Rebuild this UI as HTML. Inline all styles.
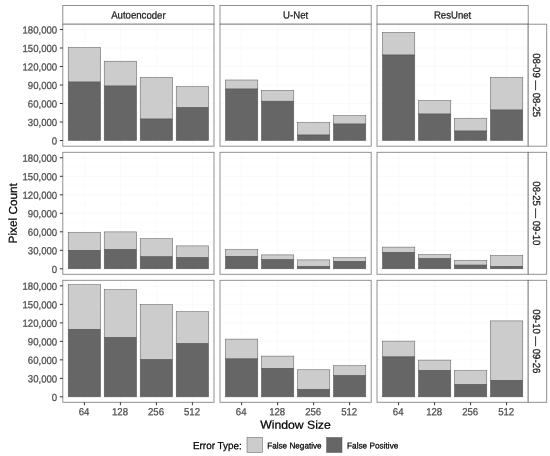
<!DOCTYPE html>
<html lang="en">
<head>
<meta charset="utf-8">
<title>Pixel Count by Window Size</title>
<style>
html,body{margin:0;padding:0;background:#ffffff;}
body{width:550px;height:456px;overflow:hidden;font-family:"Liberation Sans",Arial,sans-serif;}
svg{display:block;filter:blur(0.4px);}
</style>
</head>
<body>
<svg width="550" height="456" viewBox="0 0 550 456" font-family="'Liberation Sans', Arial, sans-serif">
<rect width="550" height="456" fill="#ffffff"/>
<rect x="62.8" y="5.5" width="151.2" height="18.7" fill="#ffffff" stroke="#333333" stroke-opacity="0.6" stroke-width="0.9"/>
<text transform="translate(138.4 18.6) rotate(0.2) scale(1 1.08)" font-size="9.6" fill="#1a1a1a" stroke="#1a1a1a" stroke-width="0.24" text-anchor="middle">Autoencoder</text>
<rect x="220" y="5.5" width="151.2" height="18.7" fill="#ffffff" stroke="#333333" stroke-opacity="0.6" stroke-width="0.9"/>
<text transform="translate(295.6 18.6) rotate(0.2) scale(1 1.08)" font-size="9.6" fill="#1a1a1a" stroke="#1a1a1a" stroke-width="0.24" text-anchor="middle">U-Net</text>
<rect x="377" y="5.5" width="151.2" height="18.7" fill="#ffffff" stroke="#333333" stroke-opacity="0.6" stroke-width="0.9"/>
<text transform="translate(452.6 18.6) rotate(0.2) scale(1 1.08)" font-size="9.6" fill="#1a1a1a" stroke="#1a1a1a" stroke-width="0.24" text-anchor="middle">ResUnet</text>
<g>
<rect x="62.8" y="24.2" width="151.2" height="122" fill="#ffffff"/>
<line x1="62.8" x2="214" y1="131.25" y2="131.25" stroke="#ebebeb" stroke-width="0.16"/>
<line x1="62.8" x2="214" y1="112.75" y2="112.75" stroke="#ebebeb" stroke-width="0.16"/>
<line x1="62.8" x2="214" y1="94.25" y2="94.25" stroke="#ebebeb" stroke-width="0.16"/>
<line x1="62.8" x2="214" y1="75.75" y2="75.75" stroke="#ebebeb" stroke-width="0.16"/>
<line x1="62.8" x2="214" y1="57.25" y2="57.25" stroke="#ebebeb" stroke-width="0.16"/>
<line x1="62.8" x2="214" y1="38.75" y2="38.75" stroke="#ebebeb" stroke-width="0.16"/>
<line x1="62.8" x2="214" y1="140.5" y2="140.5" stroke="#ebebeb" stroke-width="0.32"/>
<line x1="62.8" x2="214" y1="122" y2="122" stroke="#ebebeb" stroke-width="0.32"/>
<line x1="62.8" x2="214" y1="103.5" y2="103.5" stroke="#ebebeb" stroke-width="0.32"/>
<line x1="62.8" x2="214" y1="85" y2="85" stroke="#ebebeb" stroke-width="0.32"/>
<line x1="62.8" x2="214" y1="66.5" y2="66.5" stroke="#ebebeb" stroke-width="0.32"/>
<line x1="62.8" x2="214" y1="48" y2="48" stroke="#ebebeb" stroke-width="0.32"/>
<line x1="62.8" x2="214" y1="29.5" y2="29.5" stroke="#ebebeb" stroke-width="0.32"/>
<line x1="84.4" x2="84.4" y1="24.2" y2="146.2" stroke="#ebebeb" stroke-width="0.32"/>
<line x1="120.4" x2="120.4" y1="24.2" y2="146.2" stroke="#ebebeb" stroke-width="0.32"/>
<line x1="156.4" x2="156.4" y1="24.2" y2="146.2" stroke="#ebebeb" stroke-width="0.32"/>
<line x1="192.4" x2="192.4" y1="24.2" y2="146.2" stroke="#ebebeb" stroke-width="0.32"/>
<rect x="68.2" y="47.4" width="32.4" height="34.6" fill="#cccccc" stroke="#555555" stroke-width="0.5"/>
<rect x="68.2" y="82" width="32.4" height="58.5" fill="#666666" stroke="#555555" stroke-width="0.5"/>
<rect x="104.2" y="61.2" width="32.4" height="24.8" fill="#cccccc" stroke="#555555" stroke-width="0.5"/>
<rect x="104.2" y="86" width="32.4" height="54.5" fill="#666666" stroke="#555555" stroke-width="0.5"/>
<rect x="140.2" y="77.4" width="32.4" height="41.6" fill="#cccccc" stroke="#555555" stroke-width="0.5"/>
<rect x="140.2" y="119" width="32.4" height="21.5" fill="#666666" stroke="#555555" stroke-width="0.5"/>
<rect x="176.2" y="86.6" width="32.4" height="21" fill="#cccccc" stroke="#555555" stroke-width="0.5"/>
<rect x="176.2" y="107.6" width="32.4" height="32.9" fill="#666666" stroke="#555555" stroke-width="0.5"/>
<rect x="62.8" y="24.2" width="151.2" height="122" fill="none" stroke="#333333" stroke-opacity="0.6" stroke-width="0.9"/>
</g>
<g>
<rect x="220" y="24.2" width="151.2" height="122" fill="#ffffff"/>
<line x1="220" x2="371.2" y1="131.25" y2="131.25" stroke="#ebebeb" stroke-width="0.16"/>
<line x1="220" x2="371.2" y1="112.75" y2="112.75" stroke="#ebebeb" stroke-width="0.16"/>
<line x1="220" x2="371.2" y1="94.25" y2="94.25" stroke="#ebebeb" stroke-width="0.16"/>
<line x1="220" x2="371.2" y1="75.75" y2="75.75" stroke="#ebebeb" stroke-width="0.16"/>
<line x1="220" x2="371.2" y1="57.25" y2="57.25" stroke="#ebebeb" stroke-width="0.16"/>
<line x1="220" x2="371.2" y1="38.75" y2="38.75" stroke="#ebebeb" stroke-width="0.16"/>
<line x1="220" x2="371.2" y1="140.5" y2="140.5" stroke="#ebebeb" stroke-width="0.32"/>
<line x1="220" x2="371.2" y1="122" y2="122" stroke="#ebebeb" stroke-width="0.32"/>
<line x1="220" x2="371.2" y1="103.5" y2="103.5" stroke="#ebebeb" stroke-width="0.32"/>
<line x1="220" x2="371.2" y1="85" y2="85" stroke="#ebebeb" stroke-width="0.32"/>
<line x1="220" x2="371.2" y1="66.5" y2="66.5" stroke="#ebebeb" stroke-width="0.32"/>
<line x1="220" x2="371.2" y1="48" y2="48" stroke="#ebebeb" stroke-width="0.32"/>
<line x1="220" x2="371.2" y1="29.5" y2="29.5" stroke="#ebebeb" stroke-width="0.32"/>
<line x1="241.6" x2="241.6" y1="24.2" y2="146.2" stroke="#ebebeb" stroke-width="0.32"/>
<line x1="277.6" x2="277.6" y1="24.2" y2="146.2" stroke="#ebebeb" stroke-width="0.32"/>
<line x1="313.6" x2="313.6" y1="24.2" y2="146.2" stroke="#ebebeb" stroke-width="0.32"/>
<line x1="349.6" x2="349.6" y1="24.2" y2="146.2" stroke="#ebebeb" stroke-width="0.32"/>
<rect x="225.4" y="80" width="32.4" height="9" fill="#cccccc" stroke="#555555" stroke-width="0.5"/>
<rect x="225.4" y="89" width="32.4" height="51.5" fill="#666666" stroke="#555555" stroke-width="0.5"/>
<rect x="261.4" y="90.4" width="32.4" height="10.8" fill="#cccccc" stroke="#555555" stroke-width="0.5"/>
<rect x="261.4" y="101.2" width="32.4" height="39.3" fill="#666666" stroke="#555555" stroke-width="0.5"/>
<rect x="297.4" y="122.6" width="32.4" height="12.4" fill="#cccccc" stroke="#555555" stroke-width="0.5"/>
<rect x="297.4" y="135" width="32.4" height="5.5" fill="#666666" stroke="#555555" stroke-width="0.5"/>
<rect x="333.4" y="115.6" width="32.4" height="8.4" fill="#cccccc" stroke="#555555" stroke-width="0.5"/>
<rect x="333.4" y="124" width="32.4" height="16.5" fill="#666666" stroke="#555555" stroke-width="0.5"/>
<rect x="220" y="24.2" width="151.2" height="122" fill="none" stroke="#333333" stroke-opacity="0.6" stroke-width="0.9"/>
</g>
<g>
<rect x="377" y="24.2" width="151.2" height="122" fill="#ffffff"/>
<line x1="377" x2="528.2" y1="131.25" y2="131.25" stroke="#ebebeb" stroke-width="0.16"/>
<line x1="377" x2="528.2" y1="112.75" y2="112.75" stroke="#ebebeb" stroke-width="0.16"/>
<line x1="377" x2="528.2" y1="94.25" y2="94.25" stroke="#ebebeb" stroke-width="0.16"/>
<line x1="377" x2="528.2" y1="75.75" y2="75.75" stroke="#ebebeb" stroke-width="0.16"/>
<line x1="377" x2="528.2" y1="57.25" y2="57.25" stroke="#ebebeb" stroke-width="0.16"/>
<line x1="377" x2="528.2" y1="38.75" y2="38.75" stroke="#ebebeb" stroke-width="0.16"/>
<line x1="377" x2="528.2" y1="140.5" y2="140.5" stroke="#ebebeb" stroke-width="0.32"/>
<line x1="377" x2="528.2" y1="122" y2="122" stroke="#ebebeb" stroke-width="0.32"/>
<line x1="377" x2="528.2" y1="103.5" y2="103.5" stroke="#ebebeb" stroke-width="0.32"/>
<line x1="377" x2="528.2" y1="85" y2="85" stroke="#ebebeb" stroke-width="0.32"/>
<line x1="377" x2="528.2" y1="66.5" y2="66.5" stroke="#ebebeb" stroke-width="0.32"/>
<line x1="377" x2="528.2" y1="48" y2="48" stroke="#ebebeb" stroke-width="0.32"/>
<line x1="377" x2="528.2" y1="29.5" y2="29.5" stroke="#ebebeb" stroke-width="0.32"/>
<line x1="398.6" x2="398.6" y1="24.2" y2="146.2" stroke="#ebebeb" stroke-width="0.32"/>
<line x1="434.6" x2="434.6" y1="24.2" y2="146.2" stroke="#ebebeb" stroke-width="0.32"/>
<line x1="470.6" x2="470.6" y1="24.2" y2="146.2" stroke="#ebebeb" stroke-width="0.32"/>
<line x1="506.6" x2="506.6" y1="24.2" y2="146.2" stroke="#ebebeb" stroke-width="0.32"/>
<rect x="382.4" y="32.4" width="32.4" height="22.6" fill="#cccccc" stroke="#555555" stroke-width="0.5"/>
<rect x="382.4" y="55" width="32.4" height="85.5" fill="#666666" stroke="#555555" stroke-width="0.5"/>
<rect x="418.4" y="100.6" width="32.4" height="13.4" fill="#cccccc" stroke="#555555" stroke-width="0.5"/>
<rect x="418.4" y="114" width="32.4" height="26.5" fill="#666666" stroke="#555555" stroke-width="0.5"/>
<rect x="454.4" y="118.2" width="32.4" height="12.8" fill="#cccccc" stroke="#555555" stroke-width="0.5"/>
<rect x="454.4" y="131" width="32.4" height="9.5" fill="#666666" stroke="#555555" stroke-width="0.5"/>
<rect x="490.4" y="77.4" width="32.4" height="32.6" fill="#cccccc" stroke="#555555" stroke-width="0.5"/>
<rect x="490.4" y="110" width="32.4" height="30.5" fill="#666666" stroke="#555555" stroke-width="0.5"/>
<rect x="377" y="24.2" width="151.2" height="122" fill="none" stroke="#333333" stroke-opacity="0.6" stroke-width="0.9"/>
</g>
<line x1="59.9" x2="62.8" y1="140.5" y2="140.5" stroke="#333333" stroke-width="1.0"/>
<text transform="translate(57.2 144.6) rotate(0.2) scale(1 1.08)" font-size="9.6" fill="#4d4d4d" stroke="#4d4d4d" stroke-width="0.24" text-anchor="end">0</text>
<line x1="59.9" x2="62.8" y1="122" y2="122" stroke="#333333" stroke-width="1.0"/>
<text transform="translate(57.2 126.1) rotate(0.2) scale(1 1.08)" font-size="9.6" fill="#4d4d4d" stroke="#4d4d4d" stroke-width="0.24" text-anchor="end">30,000</text>
<line x1="59.9" x2="62.8" y1="103.5" y2="103.5" stroke="#333333" stroke-width="1.0"/>
<text transform="translate(57.2 107.6) rotate(0.2) scale(1 1.08)" font-size="9.6" fill="#4d4d4d" stroke="#4d4d4d" stroke-width="0.24" text-anchor="end">60,000</text>
<line x1="59.9" x2="62.8" y1="85" y2="85" stroke="#333333" stroke-width="1.0"/>
<text transform="translate(57.2 89.1) rotate(0.2) scale(1 1.08)" font-size="9.6" fill="#4d4d4d" stroke="#4d4d4d" stroke-width="0.24" text-anchor="end">90,000</text>
<line x1="59.9" x2="62.8" y1="66.5" y2="66.5" stroke="#333333" stroke-width="1.0"/>
<text transform="translate(57.2 70.6) rotate(0.2) scale(1 1.08)" font-size="9.6" fill="#4d4d4d" stroke="#4d4d4d" stroke-width="0.24" text-anchor="end">120,000</text>
<line x1="59.9" x2="62.8" y1="48" y2="48" stroke="#333333" stroke-width="1.0"/>
<text transform="translate(57.2 52.1) rotate(0.2) scale(1 1.08)" font-size="9.6" fill="#4d4d4d" stroke="#4d4d4d" stroke-width="0.24" text-anchor="end">150,000</text>
<line x1="59.9" x2="62.8" y1="29.5" y2="29.5" stroke="#333333" stroke-width="1.0"/>
<text transform="translate(57.2 33.6) rotate(0.2) scale(1 1.08)" font-size="9.6" fill="#4d4d4d" stroke="#4d4d4d" stroke-width="0.24" text-anchor="end">180,000</text>
<rect x="528.2" y="24.2" width="18.5" height="122" fill="#ffffff" stroke="#333333" stroke-opacity="0.6" stroke-width="0.9"/>
<text transform="translate(533 85.2) rotate(90.2) scale(1 1.08)" font-size="9.6" fill="#1a1a1a" stroke="#1a1a1a" stroke-width="0.24" text-anchor="middle">08-09 — 08-25</text>
<g>
<rect x="62.8" y="152.3" width="151.2" height="122" fill="#ffffff"/>
<line x1="62.8" x2="214" y1="259.55" y2="259.55" stroke="#ebebeb" stroke-width="0.16"/>
<line x1="62.8" x2="214" y1="241.05" y2="241.05" stroke="#ebebeb" stroke-width="0.16"/>
<line x1="62.8" x2="214" y1="222.55" y2="222.55" stroke="#ebebeb" stroke-width="0.16"/>
<line x1="62.8" x2="214" y1="204.05" y2="204.05" stroke="#ebebeb" stroke-width="0.16"/>
<line x1="62.8" x2="214" y1="185.55" y2="185.55" stroke="#ebebeb" stroke-width="0.16"/>
<line x1="62.8" x2="214" y1="167.05" y2="167.05" stroke="#ebebeb" stroke-width="0.16"/>
<line x1="62.8" x2="214" y1="268.8" y2="268.8" stroke="#ebebeb" stroke-width="0.32"/>
<line x1="62.8" x2="214" y1="250.3" y2="250.3" stroke="#ebebeb" stroke-width="0.32"/>
<line x1="62.8" x2="214" y1="231.8" y2="231.8" stroke="#ebebeb" stroke-width="0.32"/>
<line x1="62.8" x2="214" y1="213.3" y2="213.3" stroke="#ebebeb" stroke-width="0.32"/>
<line x1="62.8" x2="214" y1="194.8" y2="194.8" stroke="#ebebeb" stroke-width="0.32"/>
<line x1="62.8" x2="214" y1="176.3" y2="176.3" stroke="#ebebeb" stroke-width="0.32"/>
<line x1="62.8" x2="214" y1="157.8" y2="157.8" stroke="#ebebeb" stroke-width="0.32"/>
<line x1="84.4" x2="84.4" y1="152.3" y2="274.3" stroke="#ebebeb" stroke-width="0.32"/>
<line x1="120.4" x2="120.4" y1="152.3" y2="274.3" stroke="#ebebeb" stroke-width="0.32"/>
<line x1="156.4" x2="156.4" y1="152.3" y2="274.3" stroke="#ebebeb" stroke-width="0.32"/>
<line x1="192.4" x2="192.4" y1="152.3" y2="274.3" stroke="#ebebeb" stroke-width="0.32"/>
<rect x="68.2" y="232.5" width="32.4" height="17.8" fill="#cccccc" stroke="#555555" stroke-width="0.5"/>
<rect x="68.2" y="250.3" width="32.4" height="18.5" fill="#666666" stroke="#555555" stroke-width="0.5"/>
<rect x="104.2" y="231.9" width="32.4" height="17.6" fill="#cccccc" stroke="#555555" stroke-width="0.5"/>
<rect x="104.2" y="249.5" width="32.4" height="19.3" fill="#666666" stroke="#555555" stroke-width="0.5"/>
<rect x="140.2" y="238.7" width="32.4" height="18.1" fill="#cccccc" stroke="#555555" stroke-width="0.5"/>
<rect x="140.2" y="256.8" width="32.4" height="12" fill="#666666" stroke="#555555" stroke-width="0.5"/>
<rect x="176.2" y="245.9" width="32.4" height="11.8" fill="#cccccc" stroke="#555555" stroke-width="0.5"/>
<rect x="176.2" y="257.7" width="32.4" height="11.1" fill="#666666" stroke="#555555" stroke-width="0.5"/>
<rect x="62.8" y="152.3" width="151.2" height="122" fill="none" stroke="#333333" stroke-opacity="0.6" stroke-width="0.9"/>
</g>
<g>
<rect x="220" y="152.3" width="151.2" height="122" fill="#ffffff"/>
<line x1="220" x2="371.2" y1="259.55" y2="259.55" stroke="#ebebeb" stroke-width="0.16"/>
<line x1="220" x2="371.2" y1="241.05" y2="241.05" stroke="#ebebeb" stroke-width="0.16"/>
<line x1="220" x2="371.2" y1="222.55" y2="222.55" stroke="#ebebeb" stroke-width="0.16"/>
<line x1="220" x2="371.2" y1="204.05" y2="204.05" stroke="#ebebeb" stroke-width="0.16"/>
<line x1="220" x2="371.2" y1="185.55" y2="185.55" stroke="#ebebeb" stroke-width="0.16"/>
<line x1="220" x2="371.2" y1="167.05" y2="167.05" stroke="#ebebeb" stroke-width="0.16"/>
<line x1="220" x2="371.2" y1="268.8" y2="268.8" stroke="#ebebeb" stroke-width="0.32"/>
<line x1="220" x2="371.2" y1="250.3" y2="250.3" stroke="#ebebeb" stroke-width="0.32"/>
<line x1="220" x2="371.2" y1="231.8" y2="231.8" stroke="#ebebeb" stroke-width="0.32"/>
<line x1="220" x2="371.2" y1="213.3" y2="213.3" stroke="#ebebeb" stroke-width="0.32"/>
<line x1="220" x2="371.2" y1="194.8" y2="194.8" stroke="#ebebeb" stroke-width="0.32"/>
<line x1="220" x2="371.2" y1="176.3" y2="176.3" stroke="#ebebeb" stroke-width="0.32"/>
<line x1="220" x2="371.2" y1="157.8" y2="157.8" stroke="#ebebeb" stroke-width="0.32"/>
<line x1="241.6" x2="241.6" y1="152.3" y2="274.3" stroke="#ebebeb" stroke-width="0.32"/>
<line x1="277.6" x2="277.6" y1="152.3" y2="274.3" stroke="#ebebeb" stroke-width="0.32"/>
<line x1="313.6" x2="313.6" y1="152.3" y2="274.3" stroke="#ebebeb" stroke-width="0.32"/>
<line x1="349.6" x2="349.6" y1="152.3" y2="274.3" stroke="#ebebeb" stroke-width="0.32"/>
<rect x="225.4" y="249.7" width="32.4" height="6.6" fill="#cccccc" stroke="#555555" stroke-width="0.5"/>
<rect x="225.4" y="256.3" width="32.4" height="12.5" fill="#666666" stroke="#555555" stroke-width="0.5"/>
<rect x="261.4" y="254.9" width="32.4" height="4.8" fill="#cccccc" stroke="#555555" stroke-width="0.5"/>
<rect x="261.4" y="259.7" width="32.4" height="9.1" fill="#666666" stroke="#555555" stroke-width="0.5"/>
<rect x="297.4" y="259.9" width="32.4" height="6.6" fill="#cccccc" stroke="#555555" stroke-width="0.5"/>
<rect x="297.4" y="266.5" width="32.4" height="2.3" fill="#666666" stroke="#555555" stroke-width="0.5"/>
<rect x="333.4" y="257.7" width="32.4" height="3.8" fill="#cccccc" stroke="#555555" stroke-width="0.5"/>
<rect x="333.4" y="261.5" width="32.4" height="7.3" fill="#666666" stroke="#555555" stroke-width="0.5"/>
<rect x="220" y="152.3" width="151.2" height="122" fill="none" stroke="#333333" stroke-opacity="0.6" stroke-width="0.9"/>
</g>
<g>
<rect x="377" y="152.3" width="151.2" height="122" fill="#ffffff"/>
<line x1="377" x2="528.2" y1="259.55" y2="259.55" stroke="#ebebeb" stroke-width="0.16"/>
<line x1="377" x2="528.2" y1="241.05" y2="241.05" stroke="#ebebeb" stroke-width="0.16"/>
<line x1="377" x2="528.2" y1="222.55" y2="222.55" stroke="#ebebeb" stroke-width="0.16"/>
<line x1="377" x2="528.2" y1="204.05" y2="204.05" stroke="#ebebeb" stroke-width="0.16"/>
<line x1="377" x2="528.2" y1="185.55" y2="185.55" stroke="#ebebeb" stroke-width="0.16"/>
<line x1="377" x2="528.2" y1="167.05" y2="167.05" stroke="#ebebeb" stroke-width="0.16"/>
<line x1="377" x2="528.2" y1="268.8" y2="268.8" stroke="#ebebeb" stroke-width="0.32"/>
<line x1="377" x2="528.2" y1="250.3" y2="250.3" stroke="#ebebeb" stroke-width="0.32"/>
<line x1="377" x2="528.2" y1="231.8" y2="231.8" stroke="#ebebeb" stroke-width="0.32"/>
<line x1="377" x2="528.2" y1="213.3" y2="213.3" stroke="#ebebeb" stroke-width="0.32"/>
<line x1="377" x2="528.2" y1="194.8" y2="194.8" stroke="#ebebeb" stroke-width="0.32"/>
<line x1="377" x2="528.2" y1="176.3" y2="176.3" stroke="#ebebeb" stroke-width="0.32"/>
<line x1="377" x2="528.2" y1="157.8" y2="157.8" stroke="#ebebeb" stroke-width="0.32"/>
<line x1="398.6" x2="398.6" y1="152.3" y2="274.3" stroke="#ebebeb" stroke-width="0.32"/>
<line x1="434.6" x2="434.6" y1="152.3" y2="274.3" stroke="#ebebeb" stroke-width="0.32"/>
<line x1="470.6" x2="470.6" y1="152.3" y2="274.3" stroke="#ebebeb" stroke-width="0.32"/>
<line x1="506.6" x2="506.6" y1="152.3" y2="274.3" stroke="#ebebeb" stroke-width="0.32"/>
<rect x="382.4" y="247.1" width="32.4" height="5.2" fill="#cccccc" stroke="#555555" stroke-width="0.5"/>
<rect x="382.4" y="252.3" width="32.4" height="16.5" fill="#666666" stroke="#555555" stroke-width="0.5"/>
<rect x="418.4" y="254.7" width="32.4" height="3.8" fill="#cccccc" stroke="#555555" stroke-width="0.5"/>
<rect x="418.4" y="258.5" width="32.4" height="10.3" fill="#666666" stroke="#555555" stroke-width="0.5"/>
<rect x="454.4" y="260.5" width="32.4" height="4.6" fill="#cccccc" stroke="#555555" stroke-width="0.5"/>
<rect x="454.4" y="265.1" width="32.4" height="3.7" fill="#666666" stroke="#555555" stroke-width="0.5"/>
<rect x="490.4" y="255.5" width="32.4" height="10.8" fill="#cccccc" stroke="#555555" stroke-width="0.5"/>
<rect x="490.4" y="266.3" width="32.4" height="2.5" fill="#666666" stroke="#555555" stroke-width="0.5"/>
<rect x="377" y="152.3" width="151.2" height="122" fill="none" stroke="#333333" stroke-opacity="0.6" stroke-width="0.9"/>
</g>
<line x1="59.9" x2="62.8" y1="268.8" y2="268.8" stroke="#333333" stroke-width="1.0"/>
<text transform="translate(57.2 272.9) rotate(0.2) scale(1 1.08)" font-size="9.6" fill="#4d4d4d" stroke="#4d4d4d" stroke-width="0.24" text-anchor="end">0</text>
<line x1="59.9" x2="62.8" y1="250.3" y2="250.3" stroke="#333333" stroke-width="1.0"/>
<text transform="translate(57.2 254.4) rotate(0.2) scale(1 1.08)" font-size="9.6" fill="#4d4d4d" stroke="#4d4d4d" stroke-width="0.24" text-anchor="end">30,000</text>
<line x1="59.9" x2="62.8" y1="231.8" y2="231.8" stroke="#333333" stroke-width="1.0"/>
<text transform="translate(57.2 235.9) rotate(0.2) scale(1 1.08)" font-size="9.6" fill="#4d4d4d" stroke="#4d4d4d" stroke-width="0.24" text-anchor="end">60,000</text>
<line x1="59.9" x2="62.8" y1="213.3" y2="213.3" stroke="#333333" stroke-width="1.0"/>
<text transform="translate(57.2 217.4) rotate(0.2) scale(1 1.08)" font-size="9.6" fill="#4d4d4d" stroke="#4d4d4d" stroke-width="0.24" text-anchor="end">90,000</text>
<line x1="59.9" x2="62.8" y1="194.8" y2="194.8" stroke="#333333" stroke-width="1.0"/>
<text transform="translate(57.2 198.9) rotate(0.2) scale(1 1.08)" font-size="9.6" fill="#4d4d4d" stroke="#4d4d4d" stroke-width="0.24" text-anchor="end">120,000</text>
<line x1="59.9" x2="62.8" y1="176.3" y2="176.3" stroke="#333333" stroke-width="1.0"/>
<text transform="translate(57.2 180.4) rotate(0.2) scale(1 1.08)" font-size="9.6" fill="#4d4d4d" stroke="#4d4d4d" stroke-width="0.24" text-anchor="end">150,000</text>
<line x1="59.9" x2="62.8" y1="157.8" y2="157.8" stroke="#333333" stroke-width="1.0"/>
<text transform="translate(57.2 161.9) rotate(0.2) scale(1 1.08)" font-size="9.6" fill="#4d4d4d" stroke="#4d4d4d" stroke-width="0.24" text-anchor="end">180,000</text>
<rect x="528.2" y="152.3" width="18.5" height="122" fill="#ffffff" stroke="#333333" stroke-opacity="0.6" stroke-width="0.9"/>
<text transform="translate(533 213.3) rotate(90.2) scale(1 1.08)" font-size="9.6" fill="#1a1a1a" stroke="#1a1a1a" stroke-width="0.24" text-anchor="middle">08-25 — 09-10</text>
<g>
<rect x="62.8" y="280.3" width="151.2" height="122" fill="#ffffff"/>
<line x1="62.8" x2="214" y1="387.6" y2="387.6" stroke="#ebebeb" stroke-width="0.16"/>
<line x1="62.8" x2="214" y1="369.1" y2="369.1" stroke="#ebebeb" stroke-width="0.16"/>
<line x1="62.8" x2="214" y1="350.6" y2="350.6" stroke="#ebebeb" stroke-width="0.16"/>
<line x1="62.8" x2="214" y1="332.1" y2="332.1" stroke="#ebebeb" stroke-width="0.16"/>
<line x1="62.8" x2="214" y1="313.6" y2="313.6" stroke="#ebebeb" stroke-width="0.16"/>
<line x1="62.8" x2="214" y1="295.1" y2="295.1" stroke="#ebebeb" stroke-width="0.16"/>
<line x1="62.8" x2="214" y1="396.85" y2="396.85" stroke="#ebebeb" stroke-width="0.32"/>
<line x1="62.8" x2="214" y1="378.35" y2="378.35" stroke="#ebebeb" stroke-width="0.32"/>
<line x1="62.8" x2="214" y1="359.85" y2="359.85" stroke="#ebebeb" stroke-width="0.32"/>
<line x1="62.8" x2="214" y1="341.35" y2="341.35" stroke="#ebebeb" stroke-width="0.32"/>
<line x1="62.8" x2="214" y1="322.85" y2="322.85" stroke="#ebebeb" stroke-width="0.32"/>
<line x1="62.8" x2="214" y1="304.35" y2="304.35" stroke="#ebebeb" stroke-width="0.32"/>
<line x1="62.8" x2="214" y1="285.85" y2="285.85" stroke="#ebebeb" stroke-width="0.32"/>
<line x1="84.4" x2="84.4" y1="280.3" y2="402.3" stroke="#ebebeb" stroke-width="0.32"/>
<line x1="120.4" x2="120.4" y1="280.3" y2="402.3" stroke="#ebebeb" stroke-width="0.32"/>
<line x1="156.4" x2="156.4" y1="280.3" y2="402.3" stroke="#ebebeb" stroke-width="0.32"/>
<line x1="192.4" x2="192.4" y1="280.3" y2="402.3" stroke="#ebebeb" stroke-width="0.32"/>
<rect x="68.2" y="284.7" width="32.4" height="44.6" fill="#cccccc" stroke="#555555" stroke-width="0.5"/>
<rect x="68.2" y="329.3" width="32.4" height="67.55" fill="#666666" stroke="#555555" stroke-width="0.5"/>
<rect x="104.2" y="289.7" width="32.4" height="47.8" fill="#cccccc" stroke="#555555" stroke-width="0.5"/>
<rect x="104.2" y="337.5" width="32.4" height="59.35" fill="#666666" stroke="#555555" stroke-width="0.5"/>
<rect x="140.2" y="304.5" width="32.4" height="55.1" fill="#cccccc" stroke="#555555" stroke-width="0.5"/>
<rect x="140.2" y="359.6" width="32.4" height="37.25" fill="#666666" stroke="#555555" stroke-width="0.5"/>
<rect x="176.2" y="311.7" width="32.4" height="31.8" fill="#cccccc" stroke="#555555" stroke-width="0.5"/>
<rect x="176.2" y="343.5" width="32.4" height="53.35" fill="#666666" stroke="#555555" stroke-width="0.5"/>
<rect x="62.8" y="280.3" width="151.2" height="122" fill="none" stroke="#333333" stroke-opacity="0.6" stroke-width="0.9"/>
</g>
<g>
<rect x="220" y="280.3" width="151.2" height="122" fill="#ffffff"/>
<line x1="220" x2="371.2" y1="387.6" y2="387.6" stroke="#ebebeb" stroke-width="0.16"/>
<line x1="220" x2="371.2" y1="369.1" y2="369.1" stroke="#ebebeb" stroke-width="0.16"/>
<line x1="220" x2="371.2" y1="350.6" y2="350.6" stroke="#ebebeb" stroke-width="0.16"/>
<line x1="220" x2="371.2" y1="332.1" y2="332.1" stroke="#ebebeb" stroke-width="0.16"/>
<line x1="220" x2="371.2" y1="313.6" y2="313.6" stroke="#ebebeb" stroke-width="0.16"/>
<line x1="220" x2="371.2" y1="295.1" y2="295.1" stroke="#ebebeb" stroke-width="0.16"/>
<line x1="220" x2="371.2" y1="396.85" y2="396.85" stroke="#ebebeb" stroke-width="0.32"/>
<line x1="220" x2="371.2" y1="378.35" y2="378.35" stroke="#ebebeb" stroke-width="0.32"/>
<line x1="220" x2="371.2" y1="359.85" y2="359.85" stroke="#ebebeb" stroke-width="0.32"/>
<line x1="220" x2="371.2" y1="341.35" y2="341.35" stroke="#ebebeb" stroke-width="0.32"/>
<line x1="220" x2="371.2" y1="322.85" y2="322.85" stroke="#ebebeb" stroke-width="0.32"/>
<line x1="220" x2="371.2" y1="304.35" y2="304.35" stroke="#ebebeb" stroke-width="0.32"/>
<line x1="220" x2="371.2" y1="285.85" y2="285.85" stroke="#ebebeb" stroke-width="0.32"/>
<line x1="241.6" x2="241.6" y1="280.3" y2="402.3" stroke="#ebebeb" stroke-width="0.32"/>
<line x1="277.6" x2="277.6" y1="280.3" y2="402.3" stroke="#ebebeb" stroke-width="0.32"/>
<line x1="313.6" x2="313.6" y1="280.3" y2="402.3" stroke="#ebebeb" stroke-width="0.32"/>
<line x1="349.6" x2="349.6" y1="280.3" y2="402.3" stroke="#ebebeb" stroke-width="0.32"/>
<rect x="225.4" y="339.1" width="32.4" height="19.8" fill="#cccccc" stroke="#555555" stroke-width="0.5"/>
<rect x="225.4" y="358.9" width="32.4" height="37.95" fill="#666666" stroke="#555555" stroke-width="0.5"/>
<rect x="261.4" y="356.1" width="32.4" height="12.2" fill="#cccccc" stroke="#555555" stroke-width="0.5"/>
<rect x="261.4" y="368.3" width="32.4" height="28.55" fill="#666666" stroke="#555555" stroke-width="0.5"/>
<rect x="297.4" y="369.8" width="32.4" height="19.6" fill="#cccccc" stroke="#555555" stroke-width="0.5"/>
<rect x="297.4" y="389.4" width="32.4" height="7.45" fill="#666666" stroke="#555555" stroke-width="0.5"/>
<rect x="333.4" y="365.7" width="32.4" height="10" fill="#cccccc" stroke="#555555" stroke-width="0.5"/>
<rect x="333.4" y="375.7" width="32.4" height="21.15" fill="#666666" stroke="#555555" stroke-width="0.5"/>
<rect x="220" y="280.3" width="151.2" height="122" fill="none" stroke="#333333" stroke-opacity="0.6" stroke-width="0.9"/>
</g>
<g>
<rect x="377" y="280.3" width="151.2" height="122" fill="#ffffff"/>
<line x1="377" x2="528.2" y1="387.6" y2="387.6" stroke="#ebebeb" stroke-width="0.16"/>
<line x1="377" x2="528.2" y1="369.1" y2="369.1" stroke="#ebebeb" stroke-width="0.16"/>
<line x1="377" x2="528.2" y1="350.6" y2="350.6" stroke="#ebebeb" stroke-width="0.16"/>
<line x1="377" x2="528.2" y1="332.1" y2="332.1" stroke="#ebebeb" stroke-width="0.16"/>
<line x1="377" x2="528.2" y1="313.6" y2="313.6" stroke="#ebebeb" stroke-width="0.16"/>
<line x1="377" x2="528.2" y1="295.1" y2="295.1" stroke="#ebebeb" stroke-width="0.16"/>
<line x1="377" x2="528.2" y1="396.85" y2="396.85" stroke="#ebebeb" stroke-width="0.32"/>
<line x1="377" x2="528.2" y1="378.35" y2="378.35" stroke="#ebebeb" stroke-width="0.32"/>
<line x1="377" x2="528.2" y1="359.85" y2="359.85" stroke="#ebebeb" stroke-width="0.32"/>
<line x1="377" x2="528.2" y1="341.35" y2="341.35" stroke="#ebebeb" stroke-width="0.32"/>
<line x1="377" x2="528.2" y1="322.85" y2="322.85" stroke="#ebebeb" stroke-width="0.32"/>
<line x1="377" x2="528.2" y1="304.35" y2="304.35" stroke="#ebebeb" stroke-width="0.32"/>
<line x1="377" x2="528.2" y1="285.85" y2="285.85" stroke="#ebebeb" stroke-width="0.32"/>
<line x1="398.6" x2="398.6" y1="280.3" y2="402.3" stroke="#ebebeb" stroke-width="0.32"/>
<line x1="434.6" x2="434.6" y1="280.3" y2="402.3" stroke="#ebebeb" stroke-width="0.32"/>
<line x1="470.6" x2="470.6" y1="280.3" y2="402.3" stroke="#ebebeb" stroke-width="0.32"/>
<line x1="506.6" x2="506.6" y1="280.3" y2="402.3" stroke="#ebebeb" stroke-width="0.32"/>
<rect x="382.4" y="341.1" width="32.4" height="15.8" fill="#cccccc" stroke="#555555" stroke-width="0.5"/>
<rect x="382.4" y="356.9" width="32.4" height="39.95" fill="#666666" stroke="#555555" stroke-width="0.5"/>
<rect x="418.4" y="360.1" width="32.4" height="10.2" fill="#cccccc" stroke="#555555" stroke-width="0.5"/>
<rect x="418.4" y="370.3" width="32.4" height="26.55" fill="#666666" stroke="#555555" stroke-width="0.5"/>
<rect x="454.4" y="370.7" width="32.4" height="13.8" fill="#cccccc" stroke="#555555" stroke-width="0.5"/>
<rect x="454.4" y="384.5" width="32.4" height="12.35" fill="#666666" stroke="#555555" stroke-width="0.5"/>
<rect x="490.4" y="320.9" width="32.4" height="59.4" fill="#cccccc" stroke="#555555" stroke-width="0.5"/>
<rect x="490.4" y="380.3" width="32.4" height="16.55" fill="#666666" stroke="#555555" stroke-width="0.5"/>
<rect x="377" y="280.3" width="151.2" height="122" fill="none" stroke="#333333" stroke-opacity="0.6" stroke-width="0.9"/>
</g>
<line x1="59.9" x2="62.8" y1="396.85" y2="396.85" stroke="#333333" stroke-width="1.0"/>
<text transform="translate(57.2 400.95) rotate(0.2) scale(1 1.08)" font-size="9.6" fill="#4d4d4d" stroke="#4d4d4d" stroke-width="0.24" text-anchor="end">0</text>
<line x1="59.9" x2="62.8" y1="378.35" y2="378.35" stroke="#333333" stroke-width="1.0"/>
<text transform="translate(57.2 382.45) rotate(0.2) scale(1 1.08)" font-size="9.6" fill="#4d4d4d" stroke="#4d4d4d" stroke-width="0.24" text-anchor="end">30,000</text>
<line x1="59.9" x2="62.8" y1="359.85" y2="359.85" stroke="#333333" stroke-width="1.0"/>
<text transform="translate(57.2 363.95) rotate(0.2) scale(1 1.08)" font-size="9.6" fill="#4d4d4d" stroke="#4d4d4d" stroke-width="0.24" text-anchor="end">60,000</text>
<line x1="59.9" x2="62.8" y1="341.35" y2="341.35" stroke="#333333" stroke-width="1.0"/>
<text transform="translate(57.2 345.45) rotate(0.2) scale(1 1.08)" font-size="9.6" fill="#4d4d4d" stroke="#4d4d4d" stroke-width="0.24" text-anchor="end">90,000</text>
<line x1="59.9" x2="62.8" y1="322.85" y2="322.85" stroke="#333333" stroke-width="1.0"/>
<text transform="translate(57.2 326.95) rotate(0.2) scale(1 1.08)" font-size="9.6" fill="#4d4d4d" stroke="#4d4d4d" stroke-width="0.24" text-anchor="end">120,000</text>
<line x1="59.9" x2="62.8" y1="304.35" y2="304.35" stroke="#333333" stroke-width="1.0"/>
<text transform="translate(57.2 308.45) rotate(0.2) scale(1 1.08)" font-size="9.6" fill="#4d4d4d" stroke="#4d4d4d" stroke-width="0.24" text-anchor="end">150,000</text>
<line x1="59.9" x2="62.8" y1="285.85" y2="285.85" stroke="#333333" stroke-width="1.0"/>
<text transform="translate(57.2 289.95) rotate(0.2) scale(1 1.08)" font-size="9.6" fill="#4d4d4d" stroke="#4d4d4d" stroke-width="0.24" text-anchor="end">180,000</text>
<rect x="528.2" y="280.3" width="18.5" height="122" fill="#ffffff" stroke="#333333" stroke-opacity="0.6" stroke-width="0.9"/>
<text transform="translate(533 341.3) rotate(90.2) scale(1 1.08)" font-size="9.6" fill="#1a1a1a" stroke="#1a1a1a" stroke-width="0.24" text-anchor="middle">09-10 — 09-26</text>
<line x1="84.4" x2="84.4" y1="402.3" y2="405.2" stroke="#333333" stroke-width="1.0"/>
<text transform="translate(84 415.2) rotate(0.2) scale(1 1.08)" font-size="9.6" fill="#4d4d4d" stroke="#4d4d4d" stroke-width="0.24" text-anchor="middle">64</text>
<line x1="120.4" x2="120.4" y1="402.3" y2="405.2" stroke="#333333" stroke-width="1.0"/>
<text transform="translate(120 415.2) rotate(0.2) scale(1 1.08)" font-size="9.6" fill="#4d4d4d" stroke="#4d4d4d" stroke-width="0.24" text-anchor="middle">128</text>
<line x1="156.4" x2="156.4" y1="402.3" y2="405.2" stroke="#333333" stroke-width="1.0"/>
<text transform="translate(156 415.2) rotate(0.2) scale(1 1.08)" font-size="9.6" fill="#4d4d4d" stroke="#4d4d4d" stroke-width="0.24" text-anchor="middle">256</text>
<line x1="192.4" x2="192.4" y1="402.3" y2="405.2" stroke="#333333" stroke-width="1.0"/>
<text transform="translate(192 415.2) rotate(0.2) scale(1 1.08)" font-size="9.6" fill="#4d4d4d" stroke="#4d4d4d" stroke-width="0.24" text-anchor="middle">512</text>
<line x1="241.6" x2="241.6" y1="402.3" y2="405.2" stroke="#333333" stroke-width="1.0"/>
<text transform="translate(241.2 415.2) rotate(0.2) scale(1 1.08)" font-size="9.6" fill="#4d4d4d" stroke="#4d4d4d" stroke-width="0.24" text-anchor="middle">64</text>
<line x1="277.6" x2="277.6" y1="402.3" y2="405.2" stroke="#333333" stroke-width="1.0"/>
<text transform="translate(277.2 415.2) rotate(0.2) scale(1 1.08)" font-size="9.6" fill="#4d4d4d" stroke="#4d4d4d" stroke-width="0.24" text-anchor="middle">128</text>
<line x1="313.6" x2="313.6" y1="402.3" y2="405.2" stroke="#333333" stroke-width="1.0"/>
<text transform="translate(313.2 415.2) rotate(0.2) scale(1 1.08)" font-size="9.6" fill="#4d4d4d" stroke="#4d4d4d" stroke-width="0.24" text-anchor="middle">256</text>
<line x1="349.6" x2="349.6" y1="402.3" y2="405.2" stroke="#333333" stroke-width="1.0"/>
<text transform="translate(349.2 415.2) rotate(0.2) scale(1 1.08)" font-size="9.6" fill="#4d4d4d" stroke="#4d4d4d" stroke-width="0.24" text-anchor="middle">512</text>
<line x1="398.6" x2="398.6" y1="402.3" y2="405.2" stroke="#333333" stroke-width="1.0"/>
<text transform="translate(398.2 415.2) rotate(0.2) scale(1 1.08)" font-size="9.6" fill="#4d4d4d" stroke="#4d4d4d" stroke-width="0.24" text-anchor="middle">64</text>
<line x1="434.6" x2="434.6" y1="402.3" y2="405.2" stroke="#333333" stroke-width="1.0"/>
<text transform="translate(434.2 415.2) rotate(0.2) scale(1 1.08)" font-size="9.6" fill="#4d4d4d" stroke="#4d4d4d" stroke-width="0.24" text-anchor="middle">128</text>
<line x1="470.6" x2="470.6" y1="402.3" y2="405.2" stroke="#333333" stroke-width="1.0"/>
<text transform="translate(470.2 415.2) rotate(0.2) scale(1 1.08)" font-size="9.6" fill="#4d4d4d" stroke="#4d4d4d" stroke-width="0.24" text-anchor="middle">256</text>
<line x1="506.6" x2="506.6" y1="402.3" y2="405.2" stroke="#333333" stroke-width="1.0"/>
<text transform="translate(506.2 415.2) rotate(0.2) scale(1 1.08)" font-size="9.6" fill="#4d4d4d" stroke="#4d4d4d" stroke-width="0.24" text-anchor="middle">512</text>
<text transform="translate(295.5 428.7) rotate(0.2) scale(1.035 0.98)" font-size="11.8" fill="#000000" stroke="#000000" stroke-width="0.24" text-anchor="middle">Window Size</text>
<text transform="translate(16.9 213.3) rotate(-89.8) scale(1.0 0.98)" font-size="11.8" fill="#000000" stroke="#000000" stroke-width="0.24" text-anchor="middle">Pixel Count</text>
<text transform="translate(193 449) rotate(0.2) scale(1.03 1.05)" font-size="9.6" fill="#000000" stroke="#000000" stroke-width="0.24">Error Type:</text>
<rect x="247" y="437.5" width="15.4" height="15" fill="#cccccc" stroke="#555555" stroke-width="0.5"/>
<text transform="translate(267.2 448.4) rotate(0.2) scale(1.01 1.05)" font-size="8.1" fill="#000000" stroke="#000000" stroke-width="0.24">False Negative</text>
<rect x="326.6" y="437.5" width="15.4" height="15" fill="#666666" stroke="#555555" stroke-width="0.5"/>
<text transform="translate(347 448.4) rotate(0.2) scale(1.02 1.05)" font-size="8.1" fill="#000000" stroke="#000000" stroke-width="0.24">False Positive</text>
</svg>
</body>
</html>
